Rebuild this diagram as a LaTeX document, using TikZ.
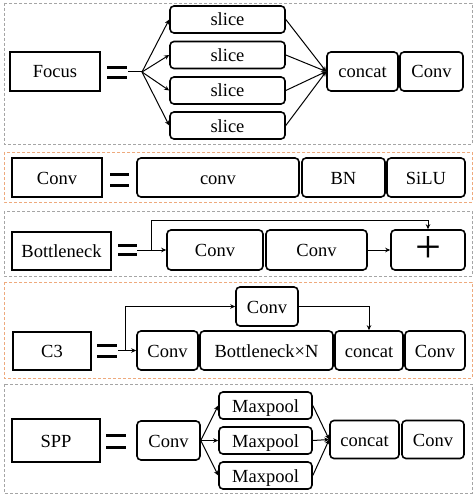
\documentclass[tikz,border=0pt]{standalone}
\usepackage{fontspec}
\setmainfont{Liberation Serif}
\usetikzlibrary{arrows.meta}
\definecolor{grayframe}{RGB}{165,165,165}
\definecolor{orangeframe}{RGB}{238,170,125}
\tikzset{
  lbl/.style={draw, line width=2pt, inner sep=0pt, text height=13pt, text depth=0pt, font=\fontsize{18.5}{20}\selectfont},
  rboxbase/.style={draw, line width=1.6pt, rounded corners=4pt, inner sep=0pt},
  rbox/.style={rboxbase, text height=13pt, text depth=0pt, font=\fontsize{18.5}{20}\selectfont},
  eqbar/.style={line width=3pt},
  conn/.style={line width=1pt},
  arr/.style={line width=1pt, -{Stealth[length=5pt,width=4.5pt]}},
  gframe/.style={draw=grayframe, line width=0.9pt, dash pattern=on 3pt off 2pt},
  oframe/.style={draw=orangeframe, line width=0.9pt, dash pattern=on 3pt off 2pt},
}
\begin{document}
\begin{tikzpicture}[x=1pt,y=-1pt]
\useasboundingbox (0,0) rectangle (474,497);
\fill[white] (0,0) rectangle (474,497);
% frames
\draw[gframe] (4,3) rectangle (472,144);
\draw[oframe] (4,152) rectangle (472,202);
\draw[gframe] (4,211) rectangle (472,276);
\draw[oframe] (4,282) rectangle (472,378);
\draw[gframe] (4,384) rectangle (472,493);

% ---- Focus ----
\node[lbl, minimum width=90pt, minimum height=39pt] (focus) at (55,71.5) {Focus};
\draw[eqbar] (107,67.5) -- (127,67.5);
\draw[eqbar] (107,77.5) -- (127,77.5);
\coordinate (fin) at (128,72);
\coordinate (fbr) at (142,72);
\node[rbox, minimum width=115pt, minimum height=27pt] (s1) at (227.5,19.5) {slice};
\node[rbox, minimum width=115pt, minimum height=27pt] (s2) at (227.5,55) {slice};
\node[rbox, minimum width=115pt, minimum height=27pt] (s3) at (227.5,90.5) {slice};
\node[rbox, minimum width=115pt, minimum height=27pt] (s4) at (227.5,125.5) {slice};
\node[rbox, minimum width=71pt, minimum height=39pt] (fcat) at (362.5,71.5) {concat};
\node[rbox, minimum width=63pt, minimum height=39pt] (fconv) at (431.5,71.5) {Conv};
\draw[conn] (fin) -- (fbr);
\foreach \s in {s1,s2,s3,s4} {
  \draw[arr] (fbr) -- (\s.west);
  \draw[arr] (\s.east) -- (fcat.west);
}

% ---- Conv ----
\node[lbl, minimum width=90pt, minimum height=39pt] (convl) at (57,177.5) {Conv};
\draw[eqbar] (110,174) -- (129,174);
\draw[eqbar] (110,185) -- (129,185);
\node[rbox, minimum width=162pt, minimum height=39pt] (cconv) at (218,177.5) {conv};
\node[rbox, minimum width=83pt, minimum height=39pt] (cbn) at (343.5,177.5) {BN};
\node[rbox, minimum width=78pt, minimum height=39pt] (csilu) at (426,177.5) {SiLU};

% ---- Bottleneck ----
\node[lbl, minimum width=99pt, minimum height=38pt] (bottl) at (61.5,251) {Bottleneck};
\draw[eqbar] (118,245) -- (137,245);
\draw[eqbar] (118,254) -- (137,254);
\node[rbox, minimum width=96pt, minimum height=40pt] (bc1) at (215,250) {Conv};
\node[rbox, minimum width=101pt, minimum height=40pt] (bc2) at (316.5,250) {Conv};
\node[rboxbase, minimum width=74pt, minimum height=40pt, font=\fontsize{46}{48}\selectfont] (bplus) at (428,250) {+};
\coordinate (bin) at (137,250);
\coordinate (bbr) at (151,250);
\draw[arr] (bin) -- (bc1.west);
\draw[arr] (bbr) |- (bplus.north |- 0,220) -- (bplus.north);
\draw[arr] (bc2.east) -- (bplus.west);

% ---- C3 ----
\node[lbl, minimum width=78pt, minimum height=38pt] (c3l) at (52,351) {C3};
\draw[eqbar] (97,345) -- (117,345);
\draw[eqbar] (97,356) -- (117,356);
\node[rbox, minimum width=62pt, minimum height=39pt] (ctop) at (267,306.5) {Conv};
\node[rbox, minimum width=61pt, minimum height=39pt] (cc1) at (167.5,350.5) {Conv};
\node[rbox, minimum width=133pt, minimum height=39pt] (cbn) at (266.5,350.5) {Bottleneck×N};
\node[rbox, minimum width=68pt, minimum height=39pt] (ccat) at (369,350.5) {concat};
\node[rbox, minimum width=60pt, minimum height=39pt] (cc2) at (435,350.5) {Conv};
\coordinate (cin) at (118,350.5);
\coordinate (cbr) at (125,350.5);
\draw[arr] (cin) -- (cc1.west);
\draw[arr] (cbr) |- (ctop.west);
\draw[arr] (ctop.east) -| (ccat.north);

% ---- SPP ----
\node[lbl, minimum width=88pt, minimum height=43pt] (sppl) at (56,440.5) {SPP};
\draw[eqbar] (106,435) -- (126,435);
\draw[eqbar] (106,447) -- (126,447);
\node[rbox, minimum width=63pt, minimum height=39pt] (sconv) at (168.5,440.5) {Conv};
\node[rbox, minimum width=93pt, minimum height=27pt] (m1) at (265.5,405.5) {Maxpool};
\node[rbox, minimum width=93pt, minimum height=27pt] (m2) at (265.5,440.5) {Maxpool};
\node[rbox, minimum width=93pt, minimum height=27pt] (m3) at (265.5,475.5) {Maxpool};
\node[rbox, minimum width=69pt, minimum height=38pt] (scat) at (364.5,439.5) {concat};
\node[rbox, minimum width=62pt, minimum height=38pt] (sconv2) at (433,439.5) {Conv};
\foreach \m in {m1,m2,m3} {
  \draw[arr] (sconv.east) -- (\m.west);
  \draw[arr] (\m.east) -- (scat.west);
}
\end{tikzpicture}
\end{document}
